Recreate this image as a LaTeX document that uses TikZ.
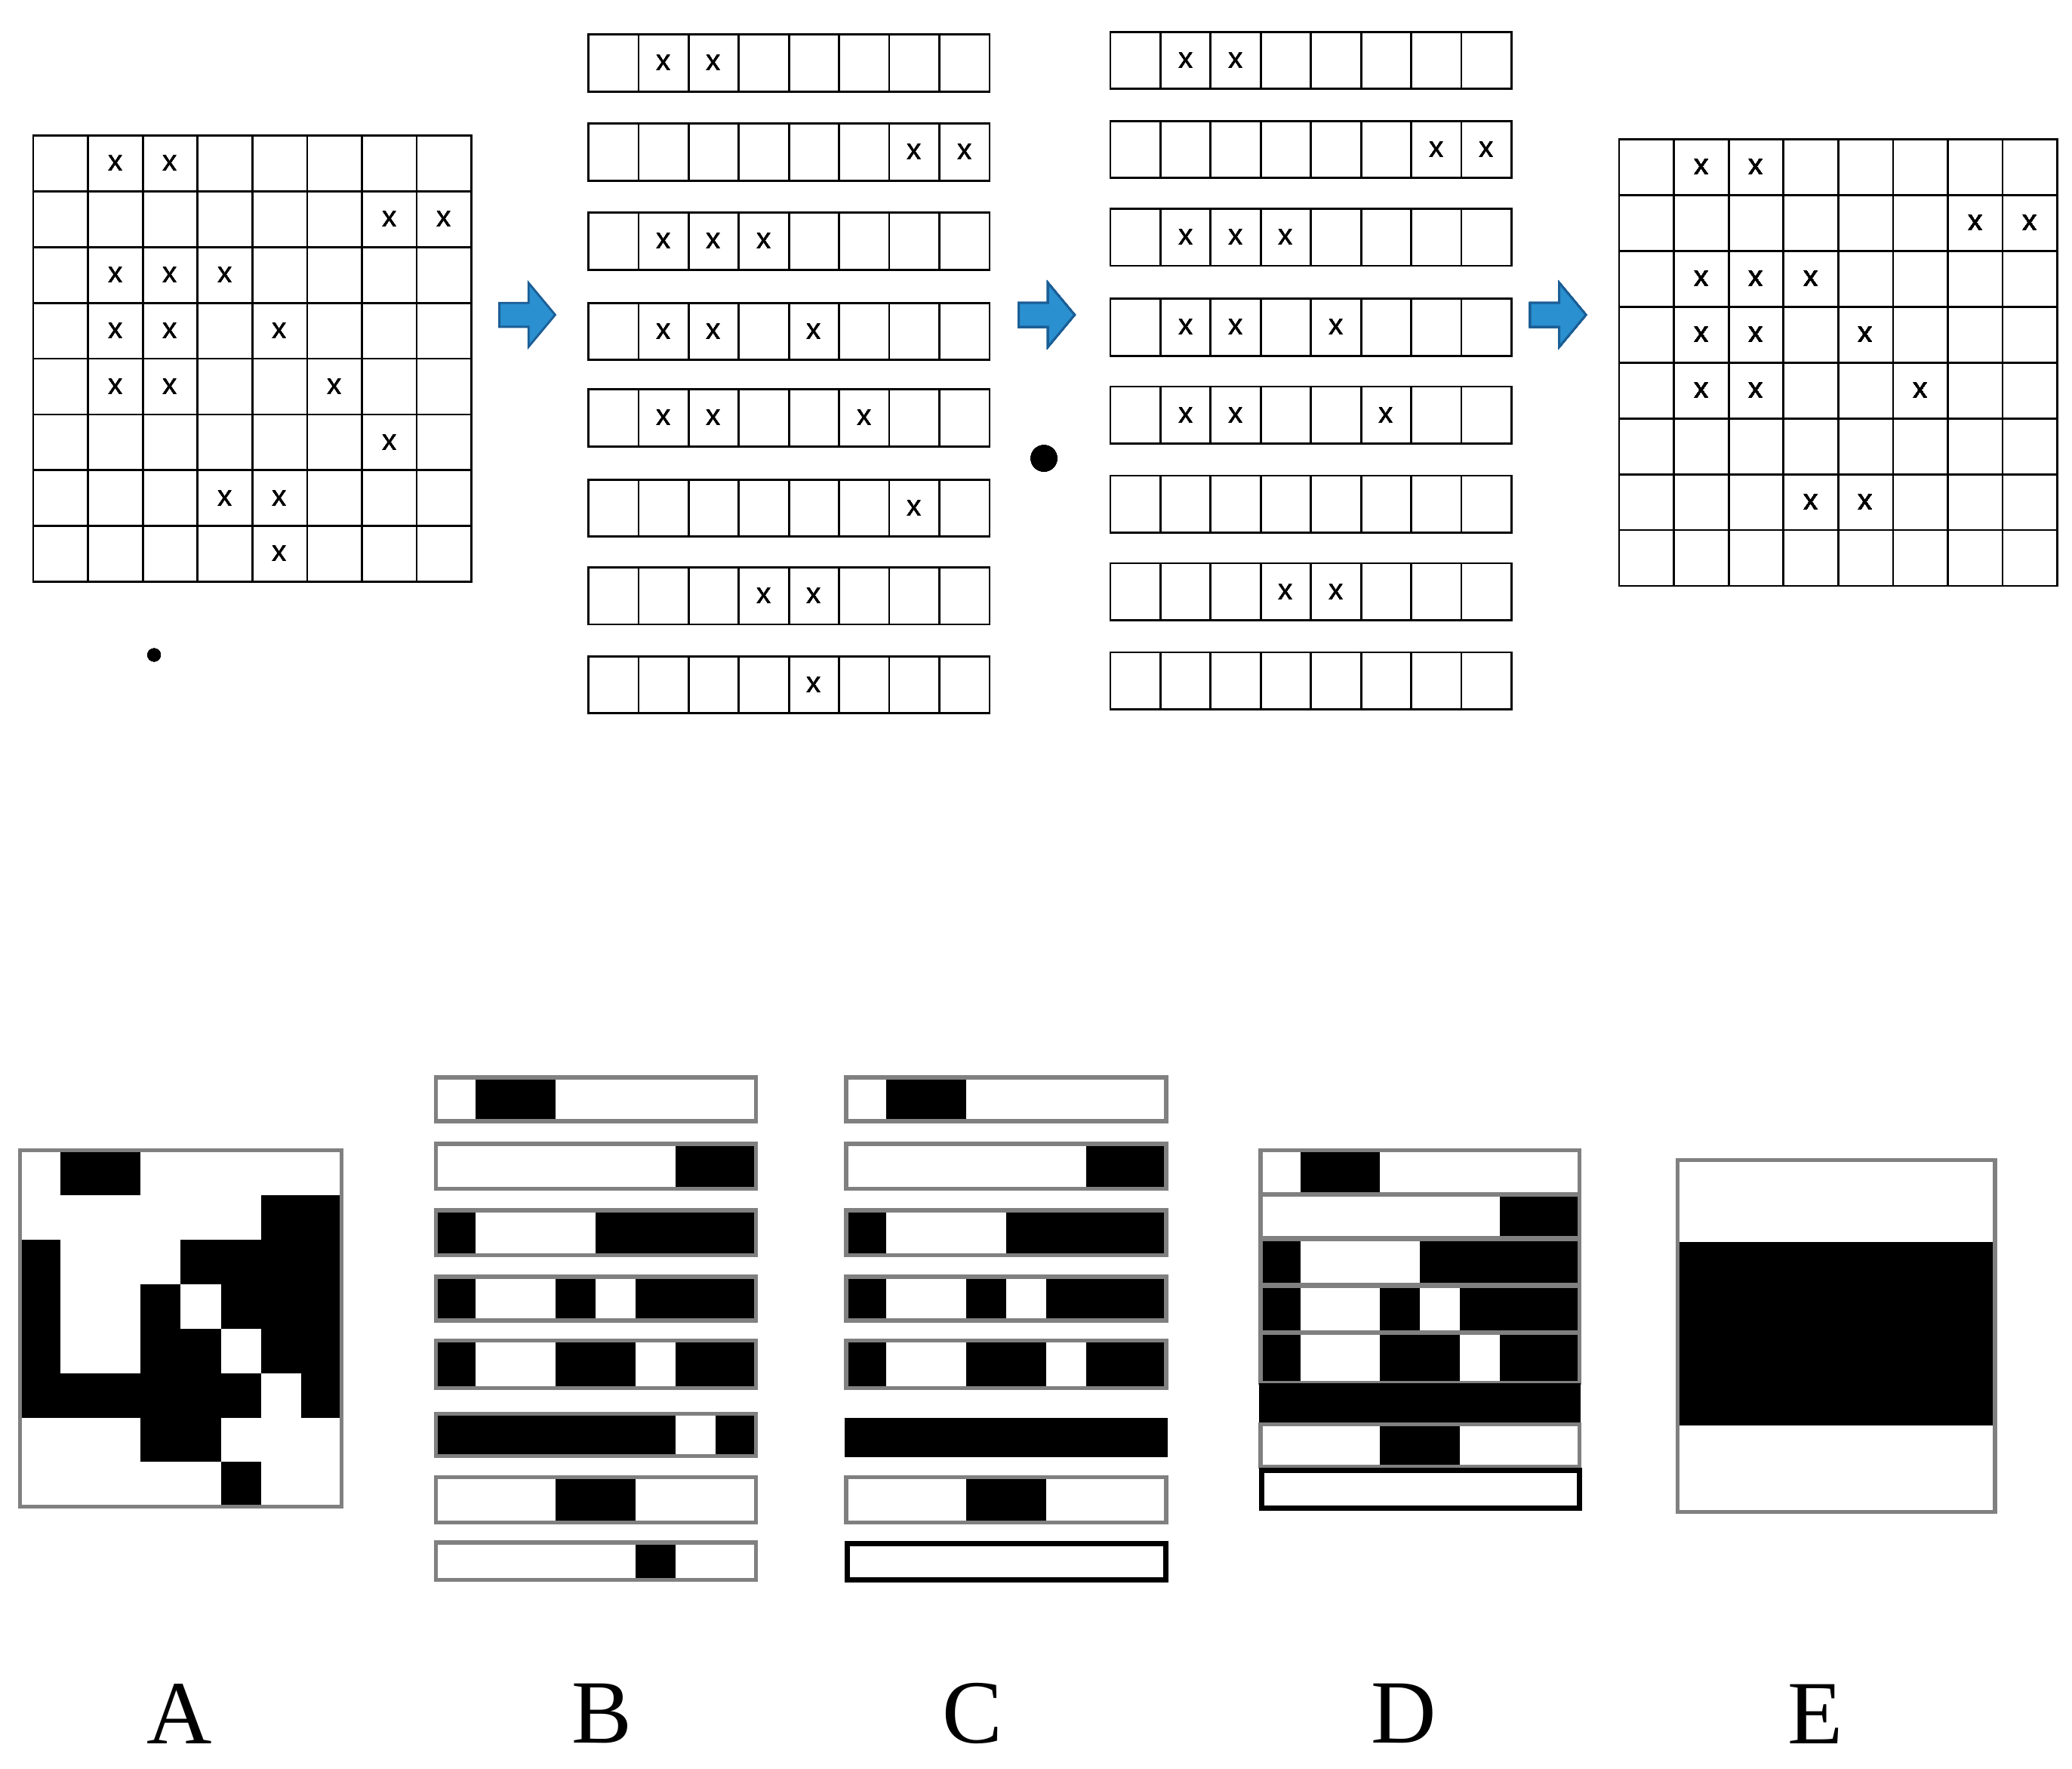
\documentclass[tikz,border=0pt]{standalone}
\usepackage{fontspec}
\setmainfont{Liberation Serif}
\newfontfamily\xfont{Liberation Sans}
\definecolor{bord}{HTML}{808080}
\definecolor{arrfill}{HTML}{2A90D0}
\definecolor{arrline}{HTML}{1B5E96}
\tikzset{cellline/.style={draw=black,line width=0.8pt},
 xmark/.style={font=\xfont\fontsize{11}{12}\selectfont,inner sep=0pt},
 bborder/.style={draw=bord,line width=1.5pt},
 eborder/.style={draw=black,line width=2pt},
 letter/.style={font=\fontsize{34}{36}\selectfont}}
% top strip frame
\newcommand\tstrip[4]{\draw[cellline] (#1,#2) rectangle ++(#3,#4);
 \foreach \i in {1,...,7} \draw[cellline] ({#1+\i*#3/8},#2) -- ++(0,#4);}
\newcommand\xs[5]{\foreach \c in {#5} \node[xmark] at ({#1+(\c+0.5)*#3/8},{#2+#4/2}) {x};}
% bottom black cells
\newcommand\bk[5]{\foreach \c in {#5} \fill[black] ({#1+\c*#3/8},#2) rectangle ++(#3/8,#4);}
\newcommand\arr[1]{\draw[arrline,fill=arrfill,line width=0.8pt] (#1,228) -- ++(22,0) -- ++(0,-15) -- (#1+42,237) -- (#1+22,261) -- ++(0,-15) -- (#1,246) -- cycle;}
\begin{document}
\begin{tikzpicture}[x=0.5pt,y=-0.5pt]
\useasboundingbox (0,0) rectangle (1560,1331);
% ---- top left grid
\foreach \r in {0,...,7} \tstrip{25}{102+\r*42}{330}{42}
\xs{25}{102}{330}{42}{1,2}
\xs{25}{144}{330}{42}{6,7}
\xs{25}{186}{330}{42}{1,2,3}
\xs{25}{228}{330}{42}{1,2,4}
\xs{25}{270}{330}{42}{1,2,5}
\xs{25}{312}{330}{42}{6}
\xs{25}{354}{330}{42}{3,4}
\xs{25}{396}{330}{42}{4}
\fill (116,493) circle (5);
\arr{376}
% ---- strips B
\foreach \t in {26,93,160,228,293,361,427,494} \tstrip{443}{\t}{302}{43}
\xs{443}{26}{302}{43}{1,2}
\xs{443}{93}{302}{43}{6,7}
\xs{443}{160}{302}{43}{1,2,3}
\xs{443}{228}{302}{43}{1,2,4}
\xs{443}{293}{302}{43}{1,2,5}
\xs{443}{361}{302}{43}{6}
\xs{443}{427}{302}{43}{3,4}
\xs{443}{494}{302}{43}{4}
\arr{767}
\fill (786,345) circle (10);
% ---- strips C
\foreach \t in {24,91,157,225,291,358,424,491} \tstrip{836}{\t}{302}{43}
\xs{836}{24}{302}{43}{1,2}
\xs{836}{91}{302}{43}{6,7}
\xs{836}{157}{302}{43}{1,2,3}
\xs{836}{225}{302}{43}{1,2,4}
\xs{836}{291}{302}{43}{1,2,5}
\xs{836}{424}{302}{43}{3,4}
\arr{1152}
% ---- right grid
\foreach \r in {0,...,7} \tstrip{1219}{105+\r*42}{330}{42}
\xs{1219}{105}{330}{42}{1,2}
\xs{1219}{147}{330}{42}{6,7}
\xs{1219}{189}{330}{42}{1,2,3}
\xs{1219}{231}{330}{42}{1,2,4}
\xs{1219}{273}{330}{42}{1,2,5}
\xs{1219}{357}{330}{42}{3,4}
% ---- bottom A
\def\ah{33.5}
\bk{15}{866}{242}{\ah}{1,2}
\bk{15}{899.5}{242}{\ah}{6,7}
\bk{15}{933}{242}{\ah}{0,4,5,6,7}
\bk{15}{966.5}{242}{\ah}{0,3,5,6,7}
\bk{15}{1000}{242}{\ah}{0,3,4,6,7}
\bk{15}{1033.5}{242}{\ah}{0,1,2,3,4,5,7}
\bk{15}{1067}{242}{\ah}{3,4}
\bk{15}{1100.5}{242}{\ah}{5}
\draw[bborder] (15,866) rectangle (257,1134);
% ---- bottom B
\bk{328}{811}{241}{33}{1,2}\draw[bborder] (328,811) rectangle ++(241,33);
\bk{328}{861}{241}{34}{6,7}\draw[bborder] (328,861) rectangle ++(241,34);
\bk{328}{911}{241}{34}{0,4,5,6,7}\draw[bborder] (328,911) rectangle ++(241,34);
\bk{328}{961}{241}{33}{0,3,5,6,7}\draw[bborder] (328,961) rectangle ++(241,33);
\bk{328}{1009}{241}{36}{0,3,4,6,7}\draw[bborder] (328,1009) rectangle ++(241,36);
\bk{328}{1064}{241}{32}{0,1,2,3,4,5,7}\draw[bborder] (328,1064) rectangle ++(241,32);
\bk{328}{1112}{241}{34}{3,4}\draw[bborder] (328,1112) rectangle ++(241,34);
\bk{328}{1161}{241}{28}{5}\draw[bborder] (328,1161) rectangle ++(241,28);
% ---- bottom C
\bk{637}{811}{241}{33}{1,2}\draw[bborder] (637,811) rectangle ++(241,33);
\bk{637}{861}{241}{34}{6,7}\draw[bborder] (637,861) rectangle ++(241,34);
\bk{637}{911}{241}{34}{0,4,5,6,7}\draw[bborder] (637,911) rectangle ++(241,34);
\bk{637}{961}{241}{33}{0,3,5,6,7}\draw[bborder] (637,961) rectangle ++(241,33);
\bk{637}{1009}{241}{36}{0,3,4,6,7}\draw[bborder] (637,1009) rectangle ++(241,36);
\fill[black] (636,1067) rectangle ++(243,30);
\bk{637}{1112}{241}{34}{3,4}\draw[bborder] (637,1112) rectangle ++(241,34);
\draw[eborder] (638,1162) rectangle ++(240,27);
% ---- bottom D
\bk{949}{866}{240}{33}{1,2}\draw[bborder] (949,866) rectangle ++(240,33);
\bk{949}{899}{240}{33}{6,7}\draw[bborder] (949,899) rectangle ++(240,33);
\bk{949}{933}{240}{34}{0,4,5,6,7}\draw[bborder] (949,933) rectangle ++(240,34);
\bk{949}{968}{240}{35}{0,3,5,6,7}\draw[bborder] (949,968) rectangle ++(240,35);
\bk{949}{1003}{240}{38}{0,3,4,6,7}\draw[bborder] (949,1003) rectangle ++(240,38);
\fill[black] (948,1041) rectangle ++(242,31);
\bk{949}{1072}{240}{32}{3,4}\draw[bborder] (949,1072) rectangle ++(240,32);
\draw[eborder] (950,1107) rectangle ++(239,28);
% ---- bottom E
\fill[black] (1263,935) rectangle (1502,1073);
\draw[bborder] (1263,873) rectangle (1502,1138);
% ---- labels
\node[letter] (la) at (135,1290) {A};
\node[letter] (lb) at (453,1290) {B};
\node[letter] (lc) at (732,1290) {C};
\node[letter] (ld) at (1057,1290) {D};
\node[letter] (le) at (1367,1290) {E};
\end{tikzpicture}
\end{document}
